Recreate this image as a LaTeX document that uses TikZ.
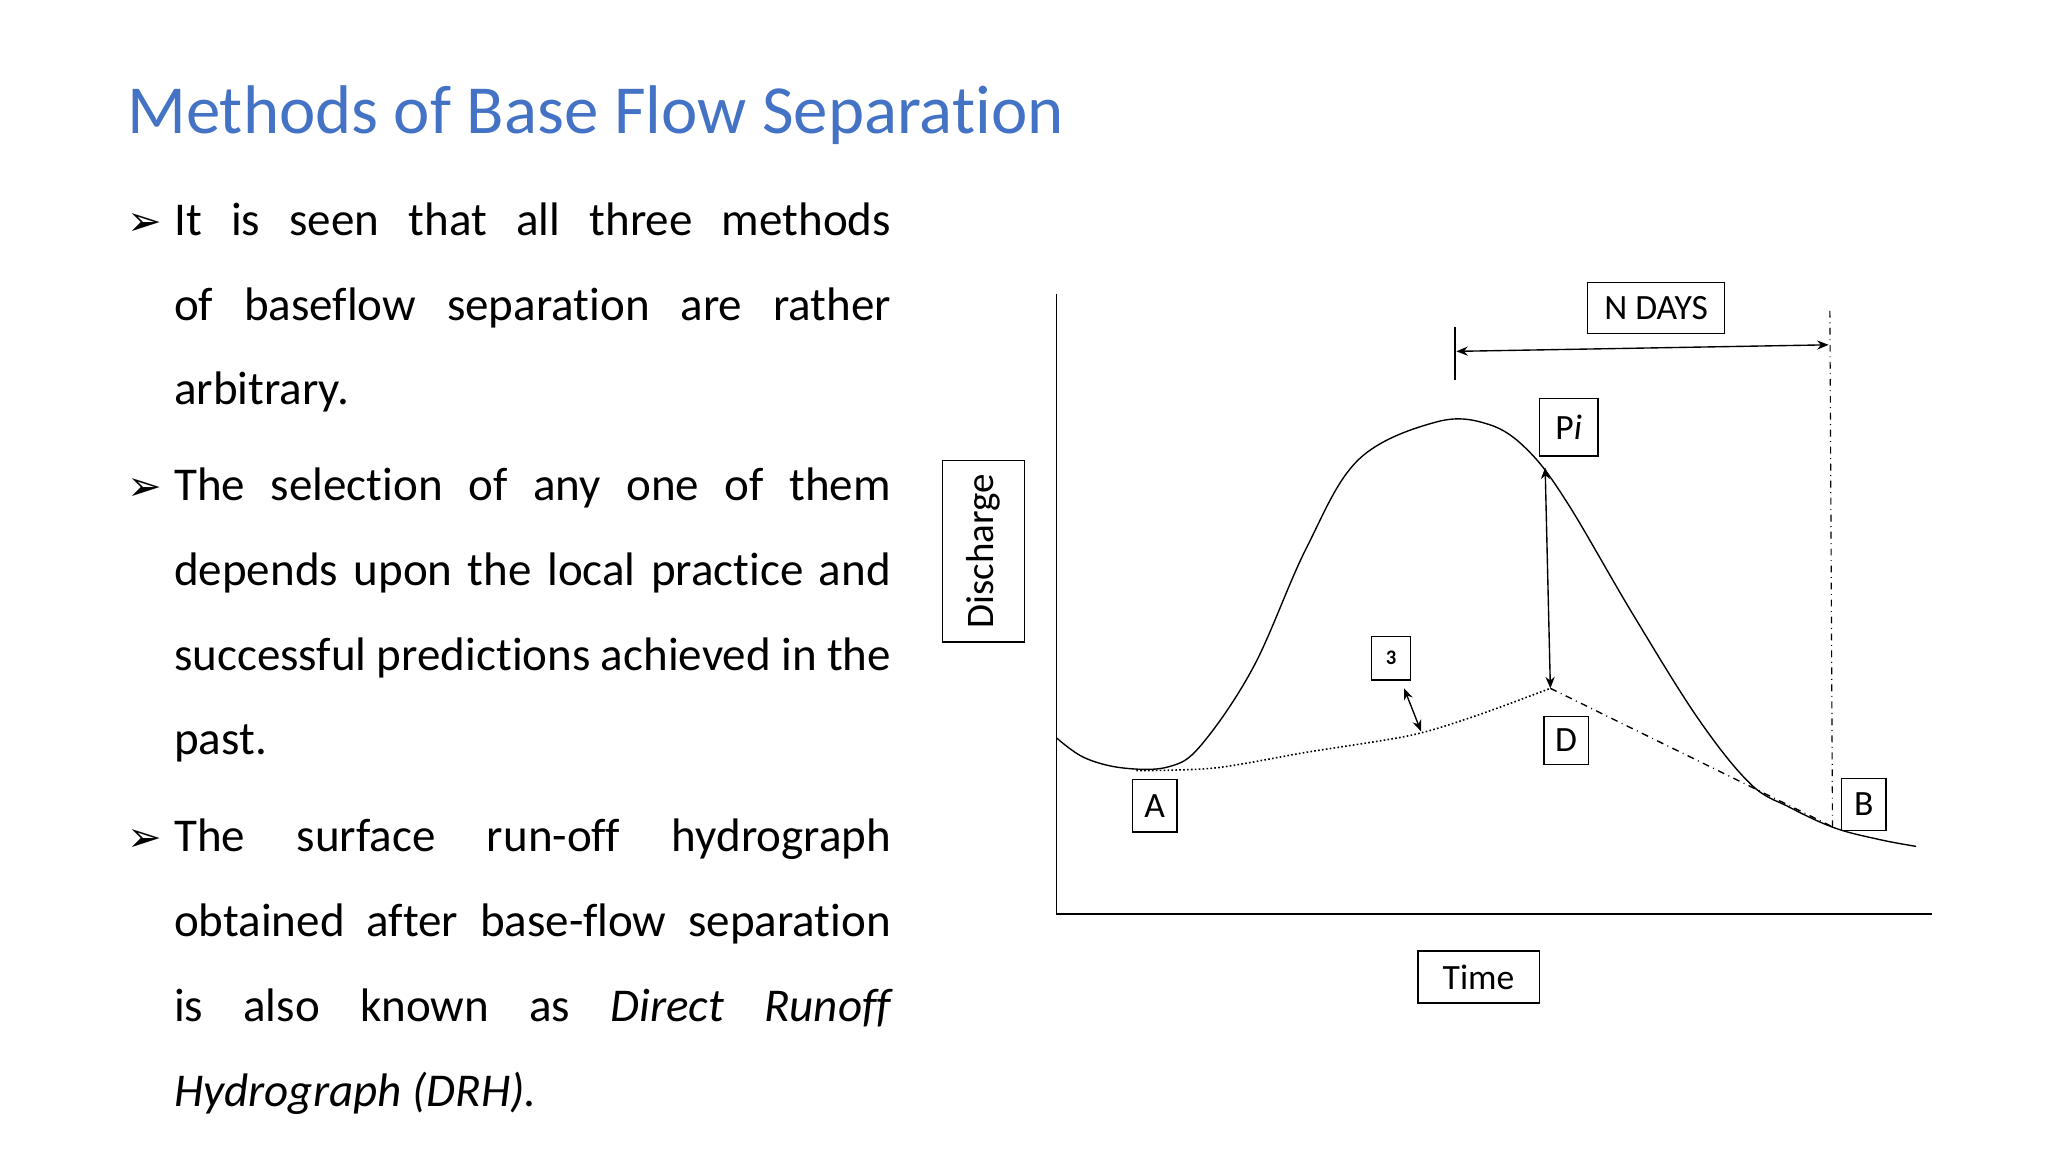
\documentclass[tikz,border=0pt]{standalone}
\usepackage{fontspec}
\setmainfont{Carlito}[Ligatures=NoCommon]
\newfontfamily\symfont{DejaVu Sans}
\usetikzlibrary{arrows.meta}
\definecolor{titleblue}{RGB}{68,114,196}
\begin{document}
\begin{tikzpicture}[x=0.02cm,y=-0.02cm,
  lbl/.style={draw,line width=0.6pt,inner sep=4pt,font=\fontsize{15.5pt}{17pt}\selectfont,minimum height=0.78cm,minimum width=0.68cm},
  para/.style={anchor=base west,inner sep=0pt,text width=10.98cm,align=justify,font=\fontsize{20.5pt}{37pt}\selectfont,execute at begin node={\hyphenpenalty=10000\exhyphenpenalty=10000\relax}},
  bul/.style={anchor=base west,inner sep=0pt,font=\symfont\fontsize{18pt}{18pt}\selectfont},
  both/.style={{Stealth[length=5pt,width=4pt]}-{Stealth[length=5pt,width=4pt]}}]
\useasboundingbox (0,0) rectangle (1568,882);
\node[anchor=base west,inner sep=0pt,text=titleblue,font=\fontsize{30pt}{32pt}\selectfont] (title) at (97,102) {Methods of Base Flow Separation};
% bullets
\node[bul] (b1) at (97,180) {➢};
\node[para] (p1) at (133,180) {It is seen that all three methods of baseflow separation are rather arbitrary.};
\node[bul] (b2) at (97,383) {➢};
\node[para] (p2) at (133,383) {The selection of any one of them depends upon the local practice and successful predictions achieved in the past.};
\node[bul] (b3) at (97,652) {➢};
\node[para] (p3) at (133,652) {The surface run-off hydrograph obtained after base-flow separation\linebreak is also known as \textit{Direct Runoff Hydrograph (DRH).}};
% axes
\coordinate (o) at (809,700);
\coordinate (ytop) at (809,225);
\coordinate (xend) at (1479,700);
\draw[line width=0.7pt] (ytop) -- (o) -- (xend);
% hydrograph
\draw[line width=0.6pt] plot[smooth,tension=0.6] coordinates {(809,565) (830,580) (860,588) (895,587) (920,570) (960,510) (1000,420) (1040,352) (1100,323) (1140,325) (1170,345) (1200,385) (1250,470) (1300,550) (1340,600) (1370,618) (1405,634) (1440,643) (1467,648)};
\coordinate (a0) at (870,590);
\coordinate (dpt) at (1187,527);
\coordinate (bpt) at (1405,634);
\draw[densely dotted,line width=0.7pt] plot[smooth] coordinates {(a0) (930,588) (1000,576) (1080,563) (1130,548) (dpt)};
\draw[dash dot,line width=0.6pt] (dpt) -- (bpt);
% arrows
\coordinate (pk) at (1183,358);
\draw[both,line width=0.6pt] (pk) -- (dpt);
\coordinate (s1) at (1075,527);
\coordinate (s2) at (1088,560);
\draw[both,line width=0.6pt] (s1) -- (s2);
\coordinate (n1) at (1115,269);
\coordinate (n2) at (1400,264);
\draw[both,line width=0.6pt] (n1) -- (n2);
\coordinate (t1) at (1114,250);
\coordinate (t2) at (1114,291);
\draw[line width=0.6pt] (t1) -- (t2);
\coordinate (v1) at (1401,238);
\coordinate (v2) at (1403,635);
\draw[dash dot,line width=0.5pt] (v1) -- (v2);
% labels
\node[lbl,minimum width=2.1cm] (nd) at (1268,236) {N DAYS};
\node[lbl,minimum width=0.9cm,minimum height=0.88cm] (pi) at (1201,327) {P\textit{i}};
\node[lbl,font=\bfseries\fontsize{9pt}{10pt}\selectfont,minimum height=0.66cm,minimum width=0.6cm] (three) at (1065,504) {3};
\node[lbl,minimum height=0.74cm] (dl) at (1199,567) {D};
\node[lbl,minimum height=0.8cm] (al) at (884,617) {A};
\node[lbl,minimum height=0.8cm] (bl) at (1427,616) {B};
\node[lbl,minimum width=1.86cm,minimum height=0.8cm] (time) at (1132,748) {Time};
\node[lbl,rotate=90,minimum width=2.78cm,minimum height=1.26cm,font=\fontsize{17pt}{18pt}\selectfont] (dis) at (753,422) {Discharge};
\end{tikzpicture}
\end{document}
